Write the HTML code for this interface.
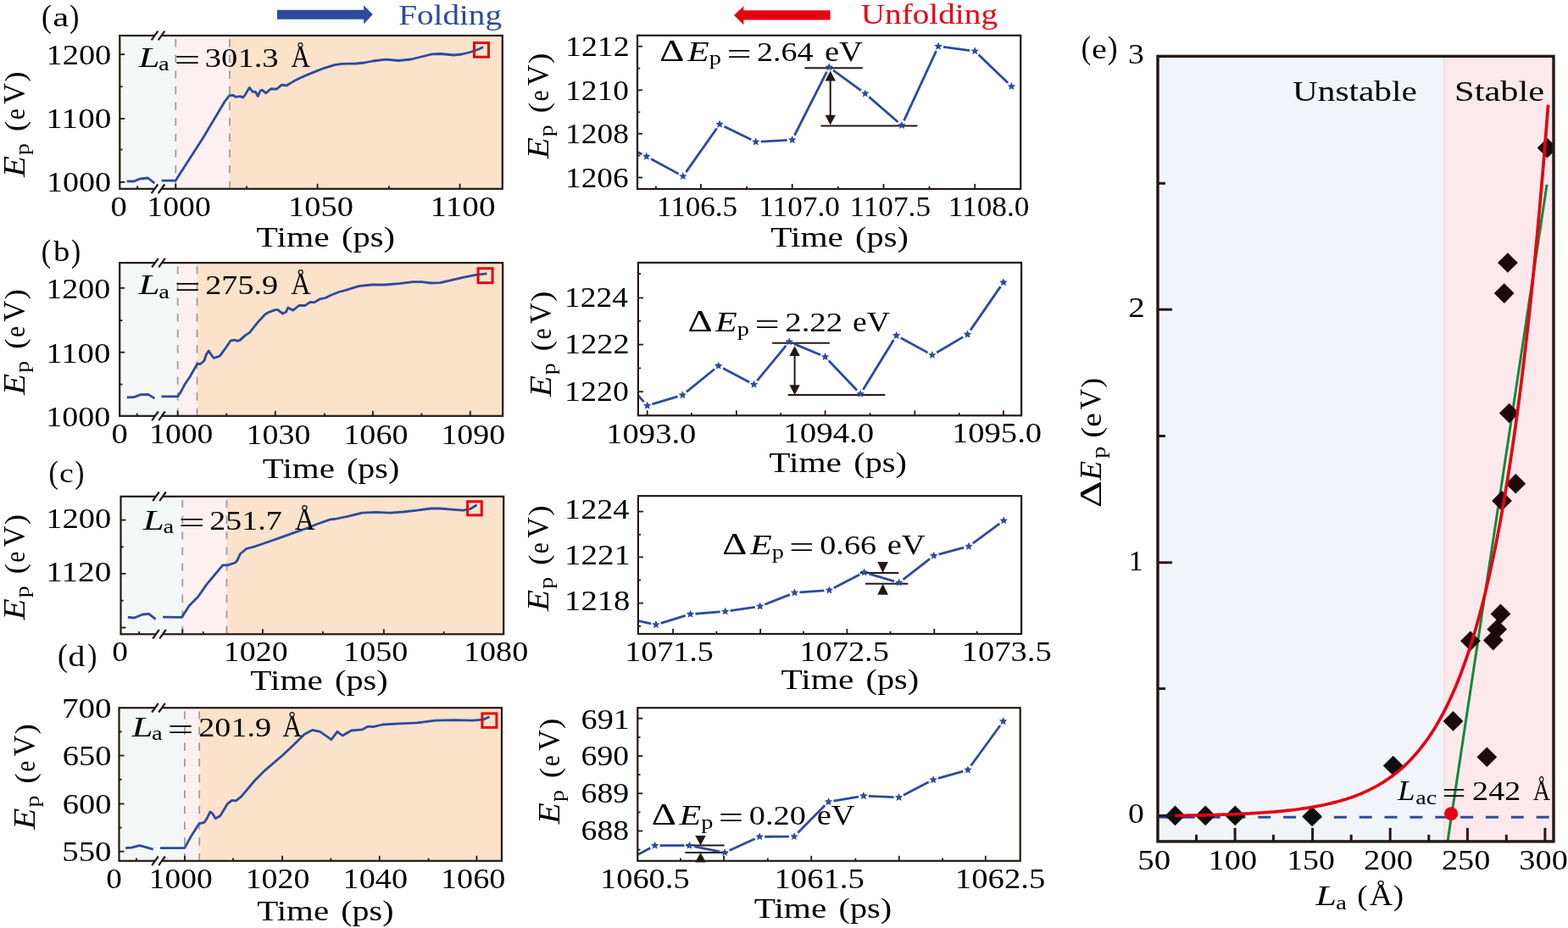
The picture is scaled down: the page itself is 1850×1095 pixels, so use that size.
<!DOCTYPE html>
<html><head><meta charset="utf-8"><style>
html,body{margin:0;padding:0;background:#fff;overflow:hidden}
svg{display:block}
text{font-family:"Liberation Serif","DejaVu Serif",serif}
</style></head><body>
<svg width="1850" height="1095" viewBox="0 0 1850 1095" fill="#231815">
<rect width="1850" height="1095" fill="#fff"/>
<polygon points="327,11.7 429.2,11.7 429.2,6.2 439.7,17 429.2,28.4 429.2,22.7 327,22.7" fill="#2c4a9e"/>
<text x="470.16" y="29.20" font-size="34.50" textLength="121.87" lengthAdjust="spacingAndGlyphs" fill="#2c4a9e">Folding</text>
<polygon points="979.6,12.3 877.4,12.3 877.4,7.2 866,18 877.4,29.3 877.4,23.6 979.6,23.6" fill="#e60012"/>
<text x="1015.68" y="28.30" font-size="33.44" textLength="161.36" lengthAdjust="spacingAndGlyphs" fill="#e60012">Unfolding</text>
<rect x="141.30" y="42.00" width="66.00" height="180.80" fill="#f3f8f6"/>
<rect x="207.30" y="42.00" width="63.70" height="180.80" fill="#fdf0f0"/>
<rect x="271.00" y="42.00" width="321.80" height="180.80" fill="#fbe2ca"/>
<line x1="207.30" y1="46.20" x2="207.30" y2="221.80" stroke="#9e9e9e" stroke-width="1.8" stroke-dasharray="9.3,9.3"/>
<line x1="271.00" y1="46.20" x2="271.00" y2="221.80" stroke="#9e9e9e" stroke-width="1.8" stroke-dasharray="9.3,9.3"/>
<clipPath id="c1"><rect x="141.3" y="42.0" width="451.5" height="180.8"/></clipPath>
<g clip-path="url(#c1)">
<polyline points="149.7,213.8 157.8,214.0 165.1,211.0 174.5,210.0 182.4,216.1" fill="none" stroke="#2c4a9e" stroke-width="2.8" stroke-linejoin="round" stroke-linecap="butt"/>
<polyline points="190.6,213.1 207.2,213.1 240.0,162.0 265.0,120.0 270.7,112.7 274.7,112.3 278.0,114.3 283.7,113.7 286.5,115.1 289.3,111.9 294.2,103.4 298.3,108.3 301.5,108.3 304.3,113.5 307.2,107.0 309.2,106.2 313.7,109.9 319.3,105.0 326.6,105.0 332.3,100.1 338.0,101.0 346.1,96.1 354.2,92.0 362.3,88.4 370.4,85.1 382.6,80.3 394.8,76.6 402.9,75.4 410.0,75.2 420.0,75.0 430.0,74.0 440.0,72.0 455.0,70.2 470.0,71.5 485.0,70.0 495.0,67.5 510.0,63.8 520.0,63.5 535.0,65.0 545.0,64.0 555.0,61.5 565.0,58.0 570.0,55.5" fill="none" stroke="#2c4a9e" stroke-width="2.8" stroke-linejoin="round" stroke-linecap="butt"/>
</g>
<rect x="559.5" y="50.5" width="17.0" height="16.7" fill="none" stroke="#e60012" stroke-width="3.0"/>
<rect x="141.30" y="42.00" width="451.50" height="180.80" fill="none" stroke="#231815" stroke-width="2.2"/>
<line x1="141.30" y1="64.20" x2="147.30" y2="64.20" stroke="#231815" stroke-width="1.8"/>
<line x1="141.30" y1="140.00" x2="147.30" y2="140.00" stroke="#231815" stroke-width="1.8"/>
<line x1="141.30" y1="214.90" x2="147.30" y2="214.90" stroke="#231815" stroke-width="1.8"/>
<line x1="141.30" y1="102.20" x2="144.50" y2="102.20" stroke="#231815" stroke-width="1.8"/>
<line x1="141.30" y1="176.50" x2="144.50" y2="176.50" stroke="#231815" stroke-width="1.8"/>
<line x1="207.30" y1="222.80" x2="207.30" y2="216.80" stroke="#231815" stroke-width="1.8"/>
<line x1="374.60" y1="222.80" x2="374.60" y2="216.80" stroke="#231815" stroke-width="1.8"/>
<line x1="542.60" y1="222.80" x2="542.60" y2="216.80" stroke="#231815" stroke-width="1.8"/>
<line x1="162.00" y1="222.80" x2="162.00" y2="219.60" stroke="#231815" stroke-width="1.8"/>
<line x1="291.00" y1="222.80" x2="291.00" y2="219.60" stroke="#231815" stroke-width="1.8"/>
<line x1="458.90" y1="222.80" x2="458.90" y2="219.60" stroke="#231815" stroke-width="1.8"/>
<line x1="182.50" y1="42.00" x2="190.50" y2="42.00" stroke="#ffffff" stroke-width="3.2"/>
<line x1="178.70" y1="47.30" x2="186.30" y2="36.70" stroke="#231815" stroke-width="2.2"/>
<line x1="186.70" y1="47.30" x2="194.30" y2="36.70" stroke="#231815" stroke-width="2.2"/>
<line x1="182.50" y1="222.80" x2="190.50" y2="222.80" stroke="#ffffff" stroke-width="3.2"/>
<line x1="178.70" y1="228.10" x2="186.30" y2="217.50" stroke="#231815" stroke-width="2.2"/>
<line x1="186.70" y1="228.10" x2="194.30" y2="217.50" stroke="#231815" stroke-width="2.2"/>
<text x="54.41" y="76.20" font-size="33.08" textLength="76.95" lengthAdjust="spacingAndGlyphs" fill="#000">1200</text>
<text x="54.35" y="151.20" font-size="33.08" textLength="77.04" lengthAdjust="spacingAndGlyphs" fill="#000">1100</text>
<text x="55.05" y="226.20" font-size="33.08" textLength="76.09" lengthAdjust="spacingAndGlyphs" fill="#000">1000</text>
<text x="130.53" y="255.40" font-size="33.08" textLength="19.34" lengthAdjust="spacingAndGlyphs" fill="#000">0</text>
<text x="173.38" y="255.40" font-size="33.08" textLength="75.35" lengthAdjust="spacingAndGlyphs" fill="#000">1000</text>
<text x="340.12" y="254.70" font-size="33.08" textLength="76.84" lengthAdjust="spacingAndGlyphs" fill="#000">1050</text>
<text x="507.55" y="254.70" font-size="33.08" textLength="77.04" lengthAdjust="spacingAndGlyphs" fill="#000">1100</text>
<text x="302.55" y="291.00" font-size="34.35" textLength="86.06" lengthAdjust="spacingAndGlyphs" fill="#000">Time</text>
<text x="402.90" y="291.00" font-size="34.35" textLength="62.99" lengthAdjust="spacingAndGlyphs" fill="#000">(ps)</text>
<g transform="translate(28.50,209.60) rotate(-90)">
<text x="0.49" y="0.00" font-size="35.73" textLength="25.06" lengthAdjust="spacingAndGlyphs" font-style="italic" fill="#000">E</text>
<text x="26.65" y="5.00" font-size="24.00" textLength="13.93" lengthAdjust="spacingAndGlyphs" fill="#000">p</text>
<text x="54.67" y="0.00" font-size="34.50" textLength="12.31" lengthAdjust="spacingAndGlyphs" fill="#000">(</text>
<text x="68.35" y="0.00" font-size="34.50" textLength="13.08" lengthAdjust="spacingAndGlyphs" fill="#000">e</text>
<text x="86.62" y="0.00" font-size="35.73" textLength="24.86" lengthAdjust="spacingAndGlyphs" fill="#000">V</text>
<text x="112.82" y="0.00" font-size="34.50" textLength="12.31" lengthAdjust="spacingAndGlyphs" fill="#000">)</text>
</g>
<text x="163.44" y="78.80" font-size="34.35" textLength="25.09" lengthAdjust="spacingAndGlyphs" font-style="italic" fill="#000">L</text>
<text x="187.10" y="83.40" font-size="24.00" textLength="12.70" lengthAdjust="spacingAndGlyphs" fill="#000">a</text>
<text x="205.79" y="82.90" font-size="36.80" textLength="30.56" lengthAdjust="spacingAndGlyphs" fill="#000" stroke="#000" stroke-width="0.1">=</text>
<text x="241.74" y="78.80" font-size="32.33" textLength="86.96" lengthAdjust="spacingAndGlyphs" fill="#000">301.3</text>
<text x="343.39" y="78.80" font-size="36.59" textLength="22.43" lengthAdjust="spacingAndGlyphs" fill="#000">Å</text>
<rect x="141.20" y="310.10" width="68.50" height="180.70" fill="#f3f8f6"/>
<rect x="209.70" y="310.10" width="22.80" height="180.70" fill="#fdf0f0"/>
<rect x="232.50" y="310.10" width="360.70" height="180.70" fill="#fbe2ca"/>
<line x1="209.70" y1="314.30" x2="209.70" y2="489.80" stroke="#9e9e9e" stroke-width="1.8" stroke-dasharray="9.3,9.3"/>
<line x1="232.50" y1="314.30" x2="232.50" y2="489.80" stroke="#9e9e9e" stroke-width="1.8" stroke-dasharray="9.3,9.3"/>
<clipPath id="c2"><rect x="141.2" y="310.1" width="452.0" height="180.7"/></clipPath>
<g clip-path="url(#c2)">
<polyline points="149.7,468.8 157.8,468.7 165.9,465.6 174.9,465.4 182.4,470.1" fill="none" stroke="#2c4a9e" stroke-width="2.8" stroke-linejoin="round" stroke-linecap="butt"/>
<polyline points="190.5,467.8 209.7,467.8 212.8,463.4 217.9,453.8 224.3,444.2 232.6,429.5 236.4,429.5 240.9,425.7 243.5,418.0 246.3,413.9 249.2,418.6 252.2,422.5 256.3,421.2 259.5,419.9 266.5,410.3 272.3,401.8 276.7,401.1 279.9,402.3 283.1,401.4 289.5,395.6 294.6,392.4 303.6,380.9 312.5,371.3 316.4,368.8 324.7,365.6 327.9,365.6 333.6,370.1 337.5,368.1 339.8,363.0 345.8,366.2 352.8,360.5 359.8,360.5 366.2,356.4 370.7,356.9 377.7,352.8 384.1,351.5 390.5,348.3 400.0,344.5 408.0,342.4 423.1,337.6 438.2,336.0 454.5,336.0 470.7,334.6 486.9,332.7 497.7,332.7 508.5,334.0 519.3,333.6 530.1,331.1 546.4,327.3 562.6,324.1 574.5,322.8" fill="none" stroke="#2c4a9e" stroke-width="2.8" stroke-linejoin="round" stroke-linecap="butt"/>
</g>
<rect x="564.1" y="316.7" width="17.0" height="17.0" fill="none" stroke="#e60012" stroke-width="3.0"/>
<rect x="141.20" y="310.10" width="452.00" height="180.70" fill="none" stroke="#231815" stroke-width="2.2"/>
<line x1="141.20" y1="339.80" x2="147.20" y2="339.80" stroke="#231815" stroke-width="1.8"/>
<line x1="141.20" y1="415.70" x2="147.20" y2="415.70" stroke="#231815" stroke-width="1.8"/>
<line x1="141.20" y1="378.10" x2="144.40" y2="378.10" stroke="#231815" stroke-width="1.8"/>
<line x1="141.20" y1="453.50" x2="144.40" y2="453.50" stroke="#231815" stroke-width="1.8"/>
<line x1="209.70" y1="490.80" x2="209.70" y2="484.80" stroke="#231815" stroke-width="1.8"/>
<line x1="324.80" y1="490.80" x2="324.80" y2="484.80" stroke="#231815" stroke-width="1.8"/>
<line x1="439.90" y1="490.80" x2="439.90" y2="484.80" stroke="#231815" stroke-width="1.8"/>
<line x1="554.80" y1="490.80" x2="554.80" y2="484.80" stroke="#231815" stroke-width="1.8"/>
<line x1="161.70" y1="490.80" x2="161.70" y2="487.60" stroke="#231815" stroke-width="1.8"/>
<line x1="267.30" y1="490.80" x2="267.30" y2="487.60" stroke="#231815" stroke-width="1.8"/>
<line x1="382.90" y1="490.80" x2="382.90" y2="487.60" stroke="#231815" stroke-width="1.8"/>
<line x1="497.40" y1="490.80" x2="497.40" y2="487.60" stroke="#231815" stroke-width="1.8"/>
<line x1="183.00" y1="310.10" x2="191.00" y2="310.10" stroke="#ffffff" stroke-width="3.2"/>
<line x1="179.20" y1="315.40" x2="186.80" y2="304.80" stroke="#231815" stroke-width="2.2"/>
<line x1="187.20" y1="315.40" x2="194.80" y2="304.80" stroke="#231815" stroke-width="2.2"/>
<line x1="183.00" y1="490.80" x2="191.00" y2="490.80" stroke="#ffffff" stroke-width="3.2"/>
<line x1="179.20" y1="496.10" x2="186.80" y2="485.50" stroke="#231815" stroke-width="2.2"/>
<line x1="187.20" y1="496.10" x2="194.80" y2="485.50" stroke="#231815" stroke-width="2.2"/>
<text x="54.26" y="351.80" font-size="33.08" textLength="75.99" lengthAdjust="spacingAndGlyphs" fill="#000">1200</text>
<text x="54.19" y="427.50" font-size="33.08" textLength="76.08" lengthAdjust="spacingAndGlyphs" fill="#000">1100</text>
<text x="54.26" y="503.00" font-size="33.08" textLength="75.99" lengthAdjust="spacingAndGlyphs" fill="#000">1000</text>
<text x="131.53" y="523.30" font-size="33.08" textLength="19.34" lengthAdjust="spacingAndGlyphs" fill="#000">0</text>
<text x="176.19" y="523.30" font-size="33.08" textLength="75.24" lengthAdjust="spacingAndGlyphs" fill="#000">1000</text>
<text x="290.57" y="523.50" font-size="33.08" textLength="75.77" lengthAdjust="spacingAndGlyphs" fill="#000">1030</text>
<text x="405.24" y="523.50" font-size="33.08" textLength="76.31" lengthAdjust="spacingAndGlyphs" fill="#000">1060</text>
<text x="520.48" y="523.50" font-size="33.08" textLength="75.56" lengthAdjust="spacingAndGlyphs" fill="#000">1090</text>
<text x="309.86" y="563.80" font-size="34.35" textLength="85.05" lengthAdjust="spacingAndGlyphs" fill="#000">Time</text>
<text x="409.03" y="563.80" font-size="34.35" textLength="62.24" lengthAdjust="spacingAndGlyphs" fill="#000">(ps)</text>
<g transform="translate(28.80,466.40) rotate(-90)">
<text x="0.49" y="0.00" font-size="35.73" textLength="25.06" lengthAdjust="spacingAndGlyphs" font-style="italic" fill="#000">E</text>
<text x="26.65" y="5.00" font-size="24.00" textLength="13.93" lengthAdjust="spacingAndGlyphs" fill="#000">p</text>
<text x="54.67" y="0.00" font-size="34.50" textLength="12.31" lengthAdjust="spacingAndGlyphs" fill="#000">(</text>
<text x="68.35" y="0.00" font-size="34.50" textLength="13.08" lengthAdjust="spacingAndGlyphs" fill="#000">e</text>
<text x="86.62" y="0.00" font-size="35.73" textLength="24.86" lengthAdjust="spacingAndGlyphs" fill="#000">V</text>
<text x="112.82" y="0.00" font-size="34.50" textLength="12.31" lengthAdjust="spacingAndGlyphs" fill="#000">)</text>
</g>
<text x="163.64" y="347.20" font-size="34.35" textLength="25.09" lengthAdjust="spacingAndGlyphs" font-style="italic" fill="#000">L</text>
<text x="187.30" y="351.80" font-size="24.00" textLength="12.70" lengthAdjust="spacingAndGlyphs" fill="#000">a</text>
<text x="205.99" y="351.30" font-size="36.80" textLength="30.56" lengthAdjust="spacingAndGlyphs" fill="#000" stroke="#000" stroke-width="0.1">=</text>
<text x="242.32" y="347.20" font-size="32.48" textLength="85.74" lengthAdjust="spacingAndGlyphs" fill="#000">275.9</text>
<text x="343.38" y="347.20" font-size="36.59" textLength="23.05" lengthAdjust="spacingAndGlyphs" fill="#000">Å</text>
<rect x="142.50" y="585.80" width="72.80" height="162.50" fill="#f3f8f6"/>
<rect x="215.30" y="585.80" width="52.20" height="162.50" fill="#fdf0f0"/>
<rect x="267.50" y="585.80" width="326.70" height="162.50" fill="#fbe2ca"/>
<line x1="215.30" y1="590.00" x2="215.30" y2="747.30" stroke="#9e9e9e" stroke-width="1.8" stroke-dasharray="9.3,9.3"/>
<line x1="267.50" y1="590.00" x2="267.50" y2="747.30" stroke="#9e9e9e" stroke-width="1.8" stroke-dasharray="9.3,9.3"/>
<clipPath id="c3"><rect x="142.5" y="585.8" width="451.7" height="162.5"/></clipPath>
<g clip-path="url(#c3)">
<polyline points="150.9,728.4 158.6,729.0 168.4,725.0 175.7,724.4 183.6,730.6" fill="none" stroke="#2c4a9e" stroke-width="2.8" stroke-linejoin="round" stroke-linecap="butt"/>
<polyline points="192.1,728.2 214.6,728.3 223.4,714.4 233.6,704.2 243.8,689.6 262.8,666.9 268.7,666.9 277.4,664.0 279.6,661.8 283.3,653.8 290.6,647.5 302.3,644.3 316.9,639.2 331.5,634.1 346.1,628.9 360.7,623.8 375.3,618.0 389.9,612.9 395.0,612.5 411.2,609.2 427.4,605.1 443.6,604.3 459.9,605.1 476.1,604.0 492.3,602.2 508.5,600.0 519.3,600.0 535.5,601.4 546.4,602.2 555.0,600.5 562.6,595.7" fill="none" stroke="#2c4a9e" stroke-width="2.8" stroke-linejoin="round" stroke-linecap="butt"/>
</g>
<rect x="551.6" y="591.8" width="16.7" height="16.1" fill="none" stroke="#e60012" stroke-width="3.0"/>
<rect x="142.50" y="585.80" width="451.70" height="162.50" fill="none" stroke="#231815" stroke-width="2.2"/>
<line x1="142.50" y1="613.60" x2="148.50" y2="613.60" stroke="#231815" stroke-width="1.8"/>
<line x1="142.50" y1="676.90" x2="148.50" y2="676.90" stroke="#231815" stroke-width="1.8"/>
<line x1="142.50" y1="740.50" x2="148.50" y2="740.50" stroke="#231815" stroke-width="1.8"/>
<line x1="142.50" y1="645.40" x2="145.70" y2="645.40" stroke="#231815" stroke-width="1.8"/>
<line x1="142.50" y1="708.70" x2="145.70" y2="708.70" stroke="#231815" stroke-width="1.8"/>
<line x1="215.30" y1="748.30" x2="215.30" y2="742.30" stroke="#231815" stroke-width="1.8"/>
<line x1="309.90" y1="748.30" x2="309.90" y2="742.30" stroke="#231815" stroke-width="1.8"/>
<line x1="452.90" y1="748.30" x2="452.90" y2="742.30" stroke="#231815" stroke-width="1.8"/>
<line x1="164.20" y1="748.30" x2="164.20" y2="745.10" stroke="#231815" stroke-width="1.8"/>
<line x1="239.70" y1="748.30" x2="239.70" y2="745.10" stroke="#231815" stroke-width="1.8"/>
<line x1="380.90" y1="748.30" x2="380.90" y2="745.10" stroke="#231815" stroke-width="1.8"/>
<line x1="523.70" y1="748.30" x2="523.70" y2="745.10" stroke="#231815" stroke-width="1.8"/>
<line x1="184.00" y1="585.80" x2="192.00" y2="585.80" stroke="#ffffff" stroke-width="3.2"/>
<line x1="180.20" y1="591.10" x2="187.80" y2="580.50" stroke="#231815" stroke-width="2.2"/>
<line x1="188.20" y1="591.10" x2="195.80" y2="580.50" stroke="#231815" stroke-width="2.2"/>
<line x1="184.00" y1="748.30" x2="192.00" y2="748.30" stroke="#ffffff" stroke-width="3.2"/>
<line x1="180.20" y1="753.60" x2="187.80" y2="743.00" stroke="#231815" stroke-width="2.2"/>
<line x1="188.20" y1="753.60" x2="195.80" y2="743.00" stroke="#231815" stroke-width="2.2"/>
<text x="54.31" y="622.90" font-size="33.08" textLength="76.95" lengthAdjust="spacingAndGlyphs" fill="#000">1200</text>
<text x="54.25" y="685.90" font-size="33.08" textLength="77.04" lengthAdjust="spacingAndGlyphs" fill="#000">1120</text>
<text x="132.27" y="779.70" font-size="33.08" textLength="18.75" lengthAdjust="spacingAndGlyphs" fill="#000">0</text>
<text x="263.87" y="779.50" font-size="33.08" textLength="75.77" lengthAdjust="spacingAndGlyphs" fill="#000">1020</text>
<text x="405.14" y="779.50" font-size="33.08" textLength="76.31" lengthAdjust="spacingAndGlyphs" fill="#000">1050</text>
<text x="546.94" y="779.50" font-size="33.08" textLength="76.31" lengthAdjust="spacingAndGlyphs" fill="#000">1080</text>
<text x="295.26" y="813.80" font-size="34.35" textLength="85.58" lengthAdjust="spacingAndGlyphs" fill="#000">Time</text>
<text x="395.04" y="813.80" font-size="34.35" textLength="62.63" lengthAdjust="spacingAndGlyphs" fill="#000">(ps)</text>
<g transform="translate(28.50,732.00) rotate(-90)">
<text x="0.49" y="0.00" font-size="35.73" textLength="25.06" lengthAdjust="spacingAndGlyphs" font-style="italic" fill="#000">E</text>
<text x="26.65" y="5.00" font-size="24.00" textLength="13.93" lengthAdjust="spacingAndGlyphs" fill="#000">p</text>
<text x="54.67" y="0.00" font-size="34.50" textLength="12.31" lengthAdjust="spacingAndGlyphs" fill="#000">(</text>
<text x="68.35" y="0.00" font-size="34.50" textLength="13.08" lengthAdjust="spacingAndGlyphs" fill="#000">e</text>
<text x="86.62" y="0.00" font-size="35.73" textLength="24.86" lengthAdjust="spacingAndGlyphs" fill="#000">V</text>
<text x="112.82" y="0.00" font-size="34.50" textLength="12.31" lengthAdjust="spacingAndGlyphs" fill="#000">)</text>
</g>
<text x="168.74" y="624.50" font-size="34.35" textLength="25.09" lengthAdjust="spacingAndGlyphs" font-style="italic" fill="#000">L</text>
<text x="192.40" y="629.10" font-size="24.00" textLength="12.70" lengthAdjust="spacingAndGlyphs" fill="#000">a</text>
<text x="211.09" y="628.60" font-size="36.80" textLength="30.56" lengthAdjust="spacingAndGlyphs" fill="#000" stroke="#000" stroke-width="0.1">=</text>
<text x="247.33" y="624.50" font-size="32.48" textLength="85.27" lengthAdjust="spacingAndGlyphs" fill="#000">251.7</text>
<text x="347.77" y="624.50" font-size="36.59" textLength="23.97" lengthAdjust="spacingAndGlyphs" fill="#000">Å</text>
<rect x="140.50" y="835.20" width="77.40" height="180.60" fill="#f3f8f6"/>
<rect x="217.90" y="835.20" width="17.30" height="180.60" fill="#fdf0f0"/>
<rect x="235.20" y="835.20" width="356.80" height="180.60" fill="#fbe2ca"/>
<line x1="217.90" y1="839.40" x2="217.90" y2="1014.80" stroke="#9e9e9e" stroke-width="1.8" stroke-dasharray="9.3,9.3"/>
<line x1="235.20" y1="839.40" x2="235.20" y2="1014.80" stroke="#9e9e9e" stroke-width="1.8" stroke-dasharray="9.3,9.3"/>
<clipPath id="c4"><rect x="140.5" y="835.2" width="451.5" height="180.6"/></clipPath>
<g clip-path="url(#c4)">
<polyline points="148.1,1000.6 155.4,1000.2 164.7,997.6 180.7,1002.2" fill="none" stroke="#2c4a9e" stroke-width="2.8" stroke-linejoin="round" stroke-linecap="butt"/>
<polyline points="189.0,1000.6 217.8,1000.7 225.5,986.7 234.8,972.0 241.1,970.4 244.9,964.2 248.0,958.0 250.4,959.6 254.3,965.8 259.7,962.7 263.6,956.5 268.2,948.7 273.7,944.3 278.3,944.8 284.5,940.2 300.1,921.5 312.5,909.1 334.2,890.5 346.6,878.8 359.1,866.4 368.4,861.4 377.7,863.3 390.9,872.6 397.9,863.3 404.2,868.0 414.5,862.0 427.4,860.9 433.9,857.2 440.4,857.7 451.2,855.0 470.7,853.9 492.3,852.8 513.9,850.1 535.5,849.6 557.2,850.1 570.1,849.1 577.7,845.8" fill="none" stroke="#2c4a9e" stroke-width="2.8" stroke-linejoin="round" stroke-linecap="butt"/>
</g>
<rect x="568.9" y="841.9" width="17.0" height="16.5" fill="none" stroke="#e60012" stroke-width="3.0"/>
<rect x="140.50" y="835.20" width="451.50" height="180.60" fill="none" stroke="#231815" stroke-width="2.2"/>
<line x1="140.50" y1="891.50" x2="146.50" y2="891.50" stroke="#231815" stroke-width="1.8"/>
<line x1="140.50" y1="948.50" x2="146.50" y2="948.50" stroke="#231815" stroke-width="1.8"/>
<line x1="140.50" y1="1004.70" x2="146.50" y2="1004.70" stroke="#231815" stroke-width="1.8"/>
<line x1="140.50" y1="863.40" x2="143.70" y2="863.40" stroke="#231815" stroke-width="1.8"/>
<line x1="140.50" y1="919.80" x2="143.70" y2="919.80" stroke="#231815" stroke-width="1.8"/>
<line x1="140.50" y1="976.60" x2="143.70" y2="976.60" stroke="#231815" stroke-width="1.8"/>
<line x1="218.10" y1="1015.80" x2="218.10" y2="1009.80" stroke="#231815" stroke-width="1.8"/>
<line x1="333.10" y1="1015.80" x2="333.10" y2="1009.80" stroke="#231815" stroke-width="1.8"/>
<line x1="447.80" y1="1015.80" x2="447.80" y2="1009.80" stroke="#231815" stroke-width="1.8"/>
<line x1="562.40" y1="1015.80" x2="562.40" y2="1009.80" stroke="#231815" stroke-width="1.8"/>
<line x1="160.90" y1="1015.80" x2="160.90" y2="1012.60" stroke="#231815" stroke-width="1.8"/>
<line x1="275.10" y1="1015.80" x2="275.10" y2="1012.60" stroke="#231815" stroke-width="1.8"/>
<line x1="390.30" y1="1015.80" x2="390.30" y2="1012.60" stroke="#231815" stroke-width="1.8"/>
<line x1="505.60" y1="1015.80" x2="505.60" y2="1012.60" stroke="#231815" stroke-width="1.8"/>
<line x1="183.00" y1="835.20" x2="191.00" y2="835.20" stroke="#ffffff" stroke-width="3.2"/>
<line x1="179.20" y1="840.50" x2="186.80" y2="829.90" stroke="#231815" stroke-width="2.2"/>
<line x1="187.20" y1="840.50" x2="194.80" y2="829.90" stroke="#231815" stroke-width="2.2"/>
<line x1="183.00" y1="1015.80" x2="191.00" y2="1015.80" stroke="#ffffff" stroke-width="3.2"/>
<line x1="179.20" y1="1021.10" x2="186.80" y2="1010.50" stroke="#231815" stroke-width="2.2"/>
<line x1="187.20" y1="1021.10" x2="194.80" y2="1010.50" stroke="#231815" stroke-width="2.2"/>
<text x="72.92" y="847.30" font-size="33.08" textLength="58.67" lengthAdjust="spacingAndGlyphs" fill="#000">700</text>
<text x="73.85" y="903.20" font-size="33.08" textLength="57.72" lengthAdjust="spacingAndGlyphs" fill="#000">650</text>
<text x="73.85" y="959.60" font-size="33.08" textLength="57.72" lengthAdjust="spacingAndGlyphs" fill="#000">600</text>
<text x="73.24" y="1016.30" font-size="33.08" textLength="58.33" lengthAdjust="spacingAndGlyphs" fill="#000">550</text>
<text x="125.38" y="1048.30" font-size="33.08" textLength="18.63" lengthAdjust="spacingAndGlyphs" fill="#000">0</text>
<text x="175.70" y="1048.30" font-size="33.08" textLength="75.03" lengthAdjust="spacingAndGlyphs" fill="#000">1000</text>
<text x="289.67" y="1048.30" font-size="33.08" textLength="75.77" lengthAdjust="spacingAndGlyphs" fill="#000">1020</text>
<text x="404.64" y="1048.30" font-size="33.08" textLength="76.41" lengthAdjust="spacingAndGlyphs" fill="#000">1040</text>
<text x="519.94" y="1048.30" font-size="33.08" textLength="76.41" lengthAdjust="spacingAndGlyphs" fill="#000">1060</text>
<text x="303.16" y="1085.60" font-size="34.35" textLength="84.99" lengthAdjust="spacingAndGlyphs" fill="#000">Time</text>
<text x="402.26" y="1085.60" font-size="34.35" textLength="62.20" lengthAdjust="spacingAndGlyphs" fill="#000">(ps)</text>
<g transform="translate(41.20,979.20) rotate(-90)">
<text x="0.49" y="0.00" font-size="35.73" textLength="25.06" lengthAdjust="spacingAndGlyphs" font-style="italic" fill="#000">E</text>
<text x="26.65" y="5.00" font-size="24.00" textLength="13.93" lengthAdjust="spacingAndGlyphs" fill="#000">p</text>
<text x="54.67" y="0.00" font-size="34.50" textLength="12.31" lengthAdjust="spacingAndGlyphs" fill="#000">(</text>
<text x="68.35" y="0.00" font-size="34.50" textLength="13.08" lengthAdjust="spacingAndGlyphs" fill="#000">e</text>
<text x="86.62" y="0.00" font-size="35.73" textLength="24.86" lengthAdjust="spacingAndGlyphs" fill="#000">V</text>
<text x="112.82" y="0.00" font-size="34.50" textLength="12.31" lengthAdjust="spacingAndGlyphs" fill="#000">)</text>
</g>
<text x="155.44" y="868.50" font-size="34.35" textLength="25.09" lengthAdjust="spacingAndGlyphs" font-style="italic" fill="#000">L</text>
<text x="179.10" y="873.10" font-size="24.00" textLength="12.70" lengthAdjust="spacingAndGlyphs" fill="#000">a</text>
<text x="197.79" y="872.60" font-size="36.80" textLength="30.56" lengthAdjust="spacingAndGlyphs" fill="#000" stroke="#000" stroke-width="0.1">=</text>
<text x="234.32" y="868.50" font-size="32.33" textLength="85.74" lengthAdjust="spacingAndGlyphs" fill="#000">201.9</text>
<text x="333.49" y="868.50" font-size="36.59" textLength="22.74" lengthAdjust="spacingAndGlyphs" fill="#000">Å</text>
<line x1="949.30" y1="80.30" x2="1017.90" y2="80.30" stroke="#231815" stroke-width="2"/>
<line x1="968.50" y1="148.60" x2="1082.40" y2="148.60" stroke="#231815" stroke-width="2"/>
<line x1="979.70" y1="91.60" x2="979.70" y2="139.50" stroke="#231815" stroke-width="2.0"/>
<polygon points="979.7,83.6 973.5,95.4 985.9,95.4" fill="#231815"/>
<polygon points="979.7,147.5 973.5,135.7 985.9,135.7" fill="#231815"/>
<clipPath id="c5"><rect x="752.0" y="41.8" width="452.2" height="181.2"/></clipPath>
<g clip-path="url(#c5)">
<path d="M725.10,166.32L757.40,181.98M768.07,187.46L800.63,205.14M809.35,203.09L845.65,151.51M854.49,149.23L886.31,164.77M897.69,167.08L928.71,165.42M937.41,159.75L975.49,84.65M983.05,82.84L1015.95,106.86M1025.33,114.33L1059.47,143.97M1066.52,142.45L1104.58,60.15M1113.05,55.47L1144.25,59.53M1154.52,64.47L1189.08,97.83" fill="none" stroke="#2c4a9e" stroke-width="2.8" stroke-linecap="butt"/>
<polygon points="762.80,179.60 764.15,182.74 767.56,183.05 764.99,185.31 765.74,188.65 762.80,186.90 759.86,188.65 760.61,185.31 758.04,183.05 761.45,182.74" fill="#2c4a9e"/>
<polygon points="805.90,203.00 807.25,206.14 810.66,206.45 808.09,208.71 808.84,212.05 805.90,210.30 802.96,212.05 803.71,208.71 801.14,206.45 804.55,206.14" fill="#2c4a9e"/>
<polygon points="849.10,141.60 850.45,144.74 853.86,145.05 851.29,147.31 852.04,150.65 849.10,148.90 846.16,150.65 846.91,147.31 844.34,145.05 847.75,144.74" fill="#2c4a9e"/>
<polygon points="891.70,162.40 893.05,165.54 896.46,165.85 893.89,168.11 894.64,171.45 891.70,169.70 888.76,171.45 889.51,168.11 886.94,165.85 890.35,165.54" fill="#2c4a9e"/>
<polygon points="934.70,160.10 936.05,163.24 939.46,163.55 936.89,165.81 937.64,169.15 934.70,167.40 931.76,169.15 932.51,165.81 929.94,163.55 933.35,163.24" fill="#2c4a9e"/>
<polygon points="978.20,74.30 979.55,77.44 982.96,77.75 980.39,80.01 981.14,83.35 978.20,81.60 975.26,83.35 976.01,80.01 973.44,77.75 976.85,77.44" fill="#2c4a9e"/>
<polygon points="1020.80,105.40 1022.15,108.54 1025.56,108.85 1022.99,111.11 1023.74,114.45 1020.80,112.70 1017.86,114.45 1018.61,111.11 1016.04,108.85 1019.45,108.54" fill="#2c4a9e"/>
<polygon points="1064.00,142.90 1065.35,146.04 1068.76,146.35 1066.19,148.61 1066.94,151.95 1064.00,150.20 1061.06,151.95 1061.81,148.61 1059.24,146.35 1062.65,146.04" fill="#2c4a9e"/>
<polygon points="1107.10,49.70 1108.45,52.84 1111.86,53.15 1109.29,55.41 1110.04,58.75 1107.10,57.00 1104.16,58.75 1104.91,55.41 1102.34,53.15 1105.75,52.84" fill="#2c4a9e"/>
<polygon points="1150.20,55.30 1151.55,58.44 1154.96,58.75 1152.39,61.01 1153.14,64.35 1150.20,62.60 1147.26,64.35 1148.01,61.01 1145.44,58.75 1148.85,58.44" fill="#2c4a9e"/>
<polygon points="1193.40,97.00 1194.75,100.14 1198.16,100.45 1195.59,102.71 1196.34,106.05 1193.40,104.30 1190.46,106.05 1191.21,102.71 1188.64,100.45 1192.05,100.14" fill="#2c4a9e"/>
</g>
<rect x="752.00" y="41.80" width="452.20" height="181.20" fill="none" stroke="#231815" stroke-width="2.2"/>
<line x1="752.00" y1="54.70" x2="758.00" y2="54.70" stroke="#231815" stroke-width="1.8"/>
<line x1="752.00" y1="106.40" x2="758.00" y2="106.40" stroke="#231815" stroke-width="1.8"/>
<line x1="752.00" y1="157.70" x2="758.00" y2="157.70" stroke="#231815" stroke-width="1.8"/>
<line x1="752.00" y1="209.50" x2="758.00" y2="209.50" stroke="#231815" stroke-width="1.8"/>
<line x1="752.00" y1="80.60" x2="755.20" y2="80.60" stroke="#231815" stroke-width="1.8"/>
<line x1="752.00" y1="132.30" x2="755.20" y2="132.30" stroke="#231815" stroke-width="1.8"/>
<line x1="752.00" y1="183.60" x2="755.20" y2="183.60" stroke="#231815" stroke-width="1.8"/>
<line x1="826.90" y1="223.00" x2="826.90" y2="217.00" stroke="#231815" stroke-width="1.8"/>
<line x1="934.70" y1="223.00" x2="934.70" y2="217.00" stroke="#231815" stroke-width="1.8"/>
<line x1="1042.50" y1="223.00" x2="1042.50" y2="217.00" stroke="#231815" stroke-width="1.8"/>
<line x1="1150.20" y1="223.00" x2="1150.20" y2="217.00" stroke="#231815" stroke-width="1.8"/>
<line x1="773.90" y1="223.00" x2="773.90" y2="219.80" stroke="#231815" stroke-width="1.8"/>
<line x1="881.10" y1="223.00" x2="881.10" y2="219.80" stroke="#231815" stroke-width="1.8"/>
<line x1="988.80" y1="223.00" x2="988.80" y2="219.80" stroke="#231815" stroke-width="1.8"/>
<line x1="1096.50" y1="223.00" x2="1096.50" y2="219.80" stroke="#231815" stroke-width="1.8"/>
<text x="666.97" y="66.20" font-size="33.23" textLength="75.71" lengthAdjust="spacingAndGlyphs" fill="#000">1212</text>
<text x="667.00" y="117.80" font-size="33.08" textLength="75.03" lengthAdjust="spacingAndGlyphs" fill="#000">1210</text>
<text x="667.00" y="169.10" font-size="33.08" textLength="75.03" lengthAdjust="spacingAndGlyphs" fill="#000">1208</text>
<text x="667.01" y="220.90" font-size="33.08" textLength="74.71" lengthAdjust="spacingAndGlyphs" fill="#000">1206</text>
<text x="774.91" y="254.90" font-size="33.08" textLength="95.26" lengthAdjust="spacingAndGlyphs" fill="#000">1106.5</text>
<text x="895.30" y="254.90" font-size="33.08" textLength="95.64" lengthAdjust="spacingAndGlyphs" fill="#000">1107.0</text>
<text x="1002.40" y="254.90" font-size="33.08" textLength="95.68" lengthAdjust="spacingAndGlyphs" fill="#000">1107.5</text>
<text x="1118.80" y="254.90" font-size="33.08" textLength="95.64" lengthAdjust="spacingAndGlyphs" fill="#000">1108.0</text>
<text x="909.16" y="291.10" font-size="34.35" textLength="85.74" lengthAdjust="spacingAndGlyphs" fill="#000">Time</text>
<text x="1009.13" y="291.10" font-size="34.35" textLength="62.75" lengthAdjust="spacingAndGlyphs" fill="#000">(ps)</text>
<g transform="translate(647.00,187.80) rotate(-90)">
<text x="0.49" y="0.00" font-size="35.73" textLength="25.06" lengthAdjust="spacingAndGlyphs" font-style="italic" fill="#000">E</text>
<text x="26.65" y="5.00" font-size="24.00" textLength="13.93" lengthAdjust="spacingAndGlyphs" fill="#000">p</text>
<text x="54.67" y="0.00" font-size="34.50" textLength="12.31" lengthAdjust="spacingAndGlyphs" fill="#000">(</text>
<text x="68.35" y="0.00" font-size="34.50" textLength="13.08" lengthAdjust="spacingAndGlyphs" fill="#000">e</text>
<text x="86.62" y="0.00" font-size="35.73" textLength="24.86" lengthAdjust="spacingAndGlyphs" fill="#000">V</text>
<text x="112.82" y="0.00" font-size="34.50" textLength="12.31" lengthAdjust="spacingAndGlyphs" fill="#000">)</text>
</g>
<text x="778.38" y="71.60" font-size="36.36" textLength="29.15" lengthAdjust="spacingAndGlyphs" fill="#000">Δ</text>
<text x="811.01" y="71.60" font-size="34.35" textLength="25.76" lengthAdjust="spacingAndGlyphs" font-style="italic" fill="#000">E</text>
<text x="836.75" y="76.40" font-size="24.00" textLength="14.16" lengthAdjust="spacingAndGlyphs" fill="#000">p</text>
<text x="857.41" y="75.70" font-size="36.80" textLength="29.23" lengthAdjust="spacingAndGlyphs" fill="#000" stroke="#000" stroke-width="0.1">=</text>
<text x="893.13" y="71.60" font-size="32.02" textLength="66.48" lengthAdjust="spacingAndGlyphs" fill="#000">2.64</text>
<text x="973.00" y="71.60" font-size="34.35" textLength="44.82" lengthAdjust="spacingAndGlyphs" fill="#000">eV</text>
<line x1="911.10" y1="404.70" x2="978.90" y2="404.70" stroke="#231815" stroke-width="2"/>
<line x1="929.70" y1="466.10" x2="1044.30" y2="466.10" stroke="#231815" stroke-width="2"/>
<line x1="937.60" y1="416.20" x2="937.60" y2="458.00" stroke="#231815" stroke-width="2.0"/>
<polygon points="937.6,408.2 931.4,420.0 943.8,420.0" fill="#231815"/>
<polygon points="937.6,466.0 931.4,454.2 943.8,454.2" fill="#231815"/>
<clipPath id="c6"><rect x="752.9" y="309.9" width="452.2" height="180.4"/></clipPath>
<g clip-path="url(#c6)">
<path d="M725.70,436.17L759.70,474.13M769.45,476.89L799.55,467.91M809.95,462.41L843.05,435.49M853.01,434.49L884.19,450.91M893.32,449.08L927.38,407.92M936.73,405.62L968.07,418.78M977.74,425.45L1011.06,460.45M1018.34,459.69L1054.46,401.01M1062.87,398.78L1094.63,416.12M1105.08,415.96L1136.32,397.64M1144.91,389.66L1180.49,338.14" fill="none" stroke="#2c4a9e" stroke-width="2.8" stroke-linecap="butt"/>
<polygon points="763.70,473.60 765.05,476.74 768.46,477.05 765.89,479.31 766.64,482.65 763.70,480.90 760.76,482.65 761.51,479.31 758.94,477.05 762.35,476.74" fill="#2c4a9e"/>
<polygon points="805.30,461.20 806.65,464.34 810.06,464.65 807.49,466.91 808.24,470.25 805.30,468.50 802.36,470.25 803.11,466.91 800.54,464.65 803.95,464.34" fill="#2c4a9e"/>
<polygon points="847.70,426.70 849.05,429.84 852.46,430.15 849.89,432.41 850.64,435.75 847.70,434.00 844.76,435.75 845.51,432.41 842.94,430.15 846.35,429.84" fill="#2c4a9e"/>
<polygon points="889.50,448.70 890.85,451.84 894.26,452.15 891.69,454.41 892.44,457.75 889.50,456.00 886.56,457.75 887.31,454.41 884.74,452.15 888.15,451.84" fill="#2c4a9e"/>
<polygon points="931.20,398.30 932.55,401.44 935.96,401.75 933.39,404.01 934.14,407.35 931.20,405.60 928.26,407.35 929.01,404.01 926.44,401.75 929.85,401.44" fill="#2c4a9e"/>
<polygon points="973.60,416.10 974.95,419.24 978.36,419.55 975.79,421.81 976.54,425.15 973.60,423.40 970.66,425.15 971.41,421.81 968.84,419.55 972.25,419.24" fill="#2c4a9e"/>
<polygon points="1015.20,459.80 1016.55,462.94 1019.96,463.25 1017.39,465.51 1018.14,468.85 1015.20,467.10 1012.26,468.85 1013.01,465.51 1010.44,463.25 1013.85,462.94" fill="#2c4a9e"/>
<polygon points="1057.60,390.90 1058.95,394.04 1062.36,394.35 1059.79,396.61 1060.54,399.95 1057.60,398.20 1054.66,399.95 1055.41,396.61 1052.84,394.35 1056.25,394.04" fill="#2c4a9e"/>
<polygon points="1099.90,414.00 1101.25,417.14 1104.66,417.45 1102.09,419.71 1102.84,423.05 1099.90,421.30 1096.96,423.05 1097.71,419.71 1095.14,417.45 1098.55,417.14" fill="#2c4a9e"/>
<polygon points="1141.50,389.60 1142.85,392.74 1146.26,393.05 1143.69,395.31 1144.44,398.65 1141.50,396.90 1138.56,398.65 1139.31,395.31 1136.74,393.05 1140.15,392.74" fill="#2c4a9e"/>
<polygon points="1183.90,328.20 1185.25,331.34 1188.66,331.65 1186.09,333.91 1186.84,337.25 1183.90,335.50 1180.96,337.25 1181.71,333.91 1179.14,331.65 1182.55,331.34" fill="#2c4a9e"/>
</g>
<rect x="752.90" y="309.90" width="452.20" height="180.40" fill="none" stroke="#231815" stroke-width="2.2"/>
<line x1="752.90" y1="351.50" x2="758.90" y2="351.50" stroke="#231815" stroke-width="1.8"/>
<line x1="752.90" y1="406.60" x2="758.90" y2="406.60" stroke="#231815" stroke-width="1.8"/>
<line x1="752.90" y1="462.20" x2="758.90" y2="462.20" stroke="#231815" stroke-width="1.8"/>
<line x1="752.90" y1="323.10" x2="756.10" y2="323.10" stroke="#231815" stroke-width="1.8"/>
<line x1="752.90" y1="378.70" x2="756.10" y2="378.70" stroke="#231815" stroke-width="1.8"/>
<line x1="752.90" y1="434.40" x2="756.10" y2="434.40" stroke="#231815" stroke-width="1.8"/>
<line x1="763.70" y1="490.30" x2="763.70" y2="484.30" stroke="#231815" stroke-width="1.8"/>
<line x1="868.90" y1="490.30" x2="868.90" y2="484.30" stroke="#231815" stroke-width="1.8"/>
<line x1="973.60" y1="490.30" x2="973.60" y2="484.30" stroke="#231815" stroke-width="1.8"/>
<line x1="1079.30" y1="490.30" x2="1079.30" y2="484.30" stroke="#231815" stroke-width="1.8"/>
<line x1="1183.90" y1="490.30" x2="1183.90" y2="484.30" stroke="#231815" stroke-width="1.8"/>
<line x1="815.90" y1="490.30" x2="815.90" y2="487.10" stroke="#231815" stroke-width="1.8"/>
<line x1="921.20" y1="490.30" x2="921.20" y2="487.10" stroke="#231815" stroke-width="1.8"/>
<line x1="1026.60" y1="490.30" x2="1026.60" y2="487.10" stroke="#231815" stroke-width="1.8"/>
<line x1="1131.70" y1="490.30" x2="1131.70" y2="487.10" stroke="#231815" stroke-width="1.8"/>
<text x="666.10" y="362.00" font-size="33.23" textLength="74.89" lengthAdjust="spacingAndGlyphs" fill="#000">1224</text>
<text x="666.04" y="417.40" font-size="33.23" textLength="76.47" lengthAdjust="spacingAndGlyphs" fill="#000">1222</text>
<text x="666.07" y="472.80" font-size="33.08" textLength="75.77" lengthAdjust="spacingAndGlyphs" fill="#000">1220</text>
<text x="715.31" y="522.60" font-size="33.08" textLength="106.06" lengthAdjust="spacingAndGlyphs" fill="#000">1093.0</text>
<text x="924.38" y="521.70" font-size="33.08" textLength="106.90" lengthAdjust="spacingAndGlyphs" fill="#000">1094.0</text>
<text x="1123.01" y="521.70" font-size="33.08" textLength="106.06" lengthAdjust="spacingAndGlyphs" fill="#000">1095.0</text>
<text x="907.16" y="557.20" font-size="34.35" textLength="85.80" lengthAdjust="spacingAndGlyphs" fill="#000">Time</text>
<text x="1007.19" y="557.20" font-size="34.35" textLength="62.79" lengthAdjust="spacingAndGlyphs" fill="#000">(ps)</text>
<g transform="translate(650.30,468.80) rotate(-90)">
<text x="0.49" y="0.00" font-size="35.73" textLength="25.06" lengthAdjust="spacingAndGlyphs" font-style="italic" fill="#000">E</text>
<text x="26.65" y="5.00" font-size="24.00" textLength="13.93" lengthAdjust="spacingAndGlyphs" fill="#000">p</text>
<text x="54.67" y="0.00" font-size="34.50" textLength="12.31" lengthAdjust="spacingAndGlyphs" fill="#000">(</text>
<text x="68.35" y="0.00" font-size="34.50" textLength="13.08" lengthAdjust="spacingAndGlyphs" fill="#000">e</text>
<text x="86.62" y="0.00" font-size="35.73" textLength="24.86" lengthAdjust="spacingAndGlyphs" fill="#000">V</text>
<text x="112.82" y="0.00" font-size="34.50" textLength="12.31" lengthAdjust="spacingAndGlyphs" fill="#000">)</text>
</g>
<text x="811.48" y="390.90" font-size="36.36" textLength="29.15" lengthAdjust="spacingAndGlyphs" fill="#000">Δ</text>
<text x="844.11" y="390.90" font-size="34.35" textLength="25.76" lengthAdjust="spacingAndGlyphs" font-style="italic" fill="#000">E</text>
<text x="869.85" y="395.70" font-size="24.00" textLength="14.16" lengthAdjust="spacingAndGlyphs" fill="#000">p</text>
<text x="890.51" y="395.00" font-size="36.80" textLength="29.23" lengthAdjust="spacingAndGlyphs" fill="#000" stroke="#000" stroke-width="0.1">=</text>
<text x="926.19" y="390.90" font-size="32.02" textLength="68.05" lengthAdjust="spacingAndGlyphs" fill="#000">2.22</text>
<text x="1006.13" y="390.90" font-size="34.35" textLength="43.88" lengthAdjust="spacingAndGlyphs" fill="#000">eV</text>
<line x1="1014.70" y1="675.90" x2="1060.30" y2="675.90" stroke="#231815" stroke-width="2"/>
<line x1="1020.90" y1="688.80" x2="1071.40" y2="688.80" stroke="#231815" stroke-width="2"/>
<polygon points="1041.6,675.9 1035.3,662.9 1047.9,662.9" fill="#231815"/>
<polygon points="1041.6,688.8 1035.3,701.8 1047.9,701.8" fill="#231815"/>
<clipPath id="c7"><rect x="752.9" y="585.2" width="452.2" height="162.8"/></clipPath>
<g clip-path="url(#c7)">
<path d="M738.67,729.56L768.03,735.84M779.64,735.35L808.76,726.45M820.48,724.24L849.72,721.96M861.63,720.62L890.77,716.28M902.29,713.21L931.91,701.59M943.48,698.96L972.42,696.84M983.75,693.68L1014.25,678.12M1025.36,677.09L1055.04,685.81M1065.54,683.82L1097.06,659.38M1107.59,654.14L1137.21,646.16M1147.83,641.05L1179.37,617.85" fill="none" stroke="#2c4a9e" stroke-width="2.8" stroke-linecap="butt"/>
<polygon points="773.90,732.10 775.25,735.24 778.66,735.55 776.09,737.81 776.84,741.15 773.90,739.40 770.96,741.15 771.71,737.81 769.14,735.55 772.55,735.24" fill="#2c4a9e"/>
<polygon points="814.50,719.70 815.85,722.84 819.26,723.15 816.69,725.41 817.44,728.75 814.50,727.00 811.56,728.75 812.31,725.41 809.74,723.15 813.15,722.84" fill="#2c4a9e"/>
<polygon points="855.70,716.50 857.05,719.64 860.46,719.95 857.89,722.21 858.64,725.55 855.70,723.80 852.76,725.55 853.51,722.21 850.94,719.95 854.35,719.64" fill="#2c4a9e"/>
<polygon points="896.70,710.40 898.05,713.54 901.46,713.85 898.89,716.11 899.64,719.45 896.70,717.70 893.76,719.45 894.51,716.11 891.94,713.85 895.35,713.54" fill="#2c4a9e"/>
<polygon points="937.50,694.40 938.85,697.54 942.26,697.85 939.69,700.11 940.44,703.45 937.50,701.70 934.56,703.45 935.31,700.11 932.74,697.85 936.15,697.54" fill="#2c4a9e"/>
<polygon points="978.40,691.40 979.75,694.54 983.16,694.85 980.59,697.11 981.34,700.45 978.40,698.70 975.46,700.45 976.21,697.11 973.64,694.85 977.05,694.54" fill="#2c4a9e"/>
<polygon points="1019.60,670.40 1020.95,673.54 1024.36,673.85 1021.79,676.11 1022.54,679.45 1019.60,677.70 1016.66,679.45 1017.41,676.11 1014.84,673.85 1018.25,673.54" fill="#2c4a9e"/>
<polygon points="1060.80,682.50 1062.15,685.64 1065.56,685.95 1062.99,688.21 1063.74,691.55 1060.80,689.80 1057.86,691.55 1058.61,688.21 1056.04,685.95 1059.45,685.64" fill="#2c4a9e"/>
<polygon points="1101.80,650.70 1103.15,653.84 1106.56,654.15 1103.99,656.41 1104.74,659.75 1101.80,658.00 1098.86,659.75 1099.61,656.41 1097.04,654.15 1100.45,653.84" fill="#2c4a9e"/>
<polygon points="1143.00,639.60 1144.35,642.74 1147.76,643.05 1145.19,645.31 1145.94,648.65 1143.00,646.90 1140.06,648.65 1140.81,645.31 1138.24,643.05 1141.65,642.74" fill="#2c4a9e"/>
<polygon points="1184.20,609.30 1185.55,612.44 1188.96,612.75 1186.39,615.01 1187.14,618.35 1184.20,616.60 1181.26,618.35 1182.01,615.01 1179.44,612.75 1182.85,612.44" fill="#2c4a9e"/>
</g>
<rect x="752.90" y="585.20" width="452.20" height="162.80" fill="none" stroke="#231815" stroke-width="2.2"/>
<line x1="752.90" y1="603.60" x2="758.90" y2="603.60" stroke="#231815" stroke-width="1.8"/>
<line x1="752.90" y1="657.40" x2="758.90" y2="657.40" stroke="#231815" stroke-width="1.8"/>
<line x1="752.90" y1="711.70" x2="758.90" y2="711.70" stroke="#231815" stroke-width="1.8"/>
<line x1="752.90" y1="630.80" x2="756.10" y2="630.80" stroke="#231815" stroke-width="1.8"/>
<line x1="752.90" y1="684.50" x2="756.10" y2="684.50" stroke="#231815" stroke-width="1.8"/>
<line x1="752.90" y1="738.80" x2="756.10" y2="738.80" stroke="#231815" stroke-width="1.8"/>
<line x1="794.10" y1="748.00" x2="794.10" y2="742.00" stroke="#231815" stroke-width="1.8"/>
<line x1="897.20" y1="748.00" x2="897.20" y2="742.00" stroke="#231815" stroke-width="1.8"/>
<line x1="999.40" y1="748.00" x2="999.40" y2="742.00" stroke="#231815" stroke-width="1.8"/>
<line x1="1102.30" y1="748.00" x2="1102.30" y2="742.00" stroke="#231815" stroke-width="1.8"/>
<line x1="845.40" y1="748.00" x2="845.40" y2="744.80" stroke="#231815" stroke-width="1.8"/>
<line x1="948.10" y1="748.00" x2="948.10" y2="744.80" stroke="#231815" stroke-width="1.8"/>
<line x1="1050.50" y1="748.00" x2="1050.50" y2="744.80" stroke="#231815" stroke-width="1.8"/>
<line x1="1152.80" y1="748.00" x2="1152.80" y2="744.80" stroke="#231815" stroke-width="1.8"/>
<text x="666.14" y="611.80" font-size="33.23" textLength="76.27" lengthAdjust="spacingAndGlyphs" fill="#000">1224</text>
<text x="666.06" y="666.00" font-size="33.23" textLength="78.08" lengthAdjust="spacingAndGlyphs" fill="#000">1221</text>
<text x="666.10" y="720.30" font-size="33.08" textLength="77.16" lengthAdjust="spacingAndGlyphs" fill="#000">1218</text>
<text x="737.25" y="780.10" font-size="33.08" textLength="104.63" lengthAdjust="spacingAndGlyphs" fill="#000">1071.5</text>
<text x="943.32" y="780.10" font-size="33.08" textLength="105.58" lengthAdjust="spacingAndGlyphs" fill="#000">1072.5</text>
<text x="1134.60" y="780.10" font-size="33.08" textLength="106.10" lengthAdjust="spacingAndGlyphs" fill="#000">1073.5</text>
<text x="921.46" y="813.10" font-size="34.35" textLength="85.80" lengthAdjust="spacingAndGlyphs" fill="#000">Time</text>
<text x="1021.49" y="813.10" font-size="34.35" textLength="62.79" lengthAdjust="spacingAndGlyphs" fill="#000">(ps)</text>
<g transform="translate(646.70,721.50) rotate(-90)">
<text x="0.49" y="0.00" font-size="35.73" textLength="25.06" lengthAdjust="spacingAndGlyphs" font-style="italic" fill="#000">E</text>
<text x="26.65" y="5.00" font-size="24.00" textLength="13.93" lengthAdjust="spacingAndGlyphs" fill="#000">p</text>
<text x="54.67" y="0.00" font-size="34.50" textLength="12.31" lengthAdjust="spacingAndGlyphs" fill="#000">(</text>
<text x="68.35" y="0.00" font-size="34.50" textLength="13.08" lengthAdjust="spacingAndGlyphs" fill="#000">e</text>
<text x="86.62" y="0.00" font-size="35.73" textLength="24.86" lengthAdjust="spacingAndGlyphs" fill="#000">V</text>
<text x="112.82" y="0.00" font-size="34.50" textLength="12.31" lengthAdjust="spacingAndGlyphs" fill="#000">)</text>
</g>
<text x="852.28" y="654.20" font-size="36.36" textLength="29.15" lengthAdjust="spacingAndGlyphs" fill="#000">Δ</text>
<text x="884.91" y="654.20" font-size="34.35" textLength="25.76" lengthAdjust="spacingAndGlyphs" font-style="italic" fill="#000">E</text>
<text x="910.65" y="659.00" font-size="24.00" textLength="14.16" lengthAdjust="spacingAndGlyphs" fill="#000">p</text>
<text x="931.31" y="658.30" font-size="36.80" textLength="29.23" lengthAdjust="spacingAndGlyphs" fill="#000" stroke="#000" stroke-width="0.1">=</text>
<text x="967.25" y="654.20" font-size="31.88" textLength="66.80" lengthAdjust="spacingAndGlyphs" fill="#000">0.66</text>
<text x="1046.80" y="654.20" font-size="34.35" textLength="44.82" lengthAdjust="spacingAndGlyphs" fill="#000">eV</text>
<line x1="809.20" y1="997.40" x2="854.60" y2="997.40" stroke="#231815" stroke-width="2"/>
<line x1="808.40" y1="1006.00" x2="858.50" y2="1006.00" stroke="#231815" stroke-width="2"/>
<polygon points="826.5,997.4 820.2,985.9 832.8,985.9" fill="#231815"/>
<polygon points="826.5,1006.0 820.2,1017.5 832.8,1017.5" fill="#231815"/>
<clipPath id="c8"><rect x="752.3" y="835.2" width="451.4" height="180.6"/></clipPath>
<g clip-path="url(#c8)">
<path d="M736.78,1016.96L767.32,1000.54M778.60,997.70L807.40,997.70M819.28,998.87L849.22,1004.83M860.56,1003.52L890.74,989.78M902.20,987.26L931.00,987.04M941.22,982.74L973.28,950.36M983.42,945.10L1012.98,940.10M1024.89,939.36L1054.61,940.64M1065.94,938.16L1095.76,922.84M1106.87,918.45L1136.23,910.05M1145.52,903.54L1180.08,855.96" fill="none" stroke="#2c4a9e" stroke-width="2.8" stroke-linecap="butt"/>
<polygon points="772.60,992.70 773.95,995.84 777.36,996.15 774.79,998.41 775.54,1001.75 772.60,1000.00 769.66,1001.75 770.41,998.41 767.84,996.15 771.25,995.84" fill="#2c4a9e"/>
<polygon points="813.40,992.70 814.75,995.84 818.16,996.15 815.59,998.41 816.34,1001.75 813.40,1000.00 810.46,1001.75 811.21,998.41 808.64,996.15 812.05,995.84" fill="#2c4a9e"/>
<polygon points="855.10,1001.00 856.45,1004.14 859.86,1004.45 857.29,1006.71 858.04,1010.05 855.10,1008.30 852.16,1010.05 852.91,1006.71 850.34,1004.45 853.75,1004.14" fill="#2c4a9e"/>
<polygon points="896.20,982.30 897.55,985.44 900.96,985.75 898.39,988.01 899.14,991.35 896.20,989.60 893.26,991.35 894.01,988.01 891.44,985.75 894.85,985.44" fill="#2c4a9e"/>
<polygon points="937.00,982.00 938.35,985.14 941.76,985.45 939.19,987.71 939.94,991.05 937.00,989.30 934.06,991.05 934.81,987.71 932.24,985.45 935.65,985.14" fill="#2c4a9e"/>
<polygon points="977.50,941.10 978.85,944.24 982.26,944.55 979.69,946.81 980.44,950.15 977.50,948.40 974.56,950.15 975.31,946.81 972.74,944.55 976.15,944.24" fill="#2c4a9e"/>
<polygon points="1018.90,934.10 1020.25,937.24 1023.66,937.55 1021.09,939.81 1021.84,943.15 1018.90,941.40 1015.96,943.15 1016.71,939.81 1014.14,937.55 1017.55,937.24" fill="#2c4a9e"/>
<polygon points="1060.60,935.90 1061.95,939.04 1065.36,939.35 1062.79,941.61 1063.54,944.95 1060.60,943.20 1057.66,944.95 1058.41,941.61 1055.84,939.35 1059.25,939.04" fill="#2c4a9e"/>
<polygon points="1101.10,915.10 1102.45,918.24 1105.86,918.55 1103.29,920.81 1104.04,924.15 1101.10,922.40 1098.16,924.15 1098.91,920.81 1096.34,918.55 1099.75,918.24" fill="#2c4a9e"/>
<polygon points="1142.00,903.40 1143.35,906.54 1146.76,906.85 1144.19,909.11 1144.94,912.45 1142.00,910.70 1139.06,912.45 1139.81,909.11 1137.24,906.85 1140.65,906.54" fill="#2c4a9e"/>
<polygon points="1183.60,846.10 1184.95,849.24 1188.36,849.55 1185.79,851.81 1186.54,855.15 1183.60,853.40 1180.66,855.15 1181.41,851.81 1178.84,849.55 1182.25,849.24" fill="#2c4a9e"/>
</g>
<rect x="752.30" y="835.20" width="451.40" height="180.60" fill="none" stroke="#231815" stroke-width="2.2"/>
<line x1="752.30" y1="847.70" x2="758.30" y2="847.70" stroke="#231815" stroke-width="1.8"/>
<line x1="752.30" y1="892.00" x2="758.30" y2="892.00" stroke="#231815" stroke-width="1.8"/>
<line x1="752.30" y1="936.20" x2="758.30" y2="936.20" stroke="#231815" stroke-width="1.8"/>
<line x1="752.30" y1="980.50" x2="758.30" y2="980.50" stroke="#231815" stroke-width="1.8"/>
<line x1="752.30" y1="869.90" x2="755.50" y2="869.90" stroke="#231815" stroke-width="1.8"/>
<line x1="752.30" y1="914.10" x2="755.50" y2="914.10" stroke="#231815" stroke-width="1.8"/>
<line x1="752.30" y1="958.40" x2="755.50" y2="958.40" stroke="#231815" stroke-width="1.8"/>
<line x1="752.30" y1="1002.60" x2="755.50" y2="1002.60" stroke="#231815" stroke-width="1.8"/>
<line x1="854.10" y1="1015.80" x2="854.10" y2="1009.80" stroke="#231815" stroke-width="1.8"/>
<line x1="957.20" y1="1015.80" x2="957.20" y2="1009.80" stroke="#231815" stroke-width="1.8"/>
<line x1="1060.80" y1="1015.80" x2="1060.80" y2="1009.80" stroke="#231815" stroke-width="1.8"/>
<line x1="1162.80" y1="1015.80" x2="1162.80" y2="1009.80" stroke="#231815" stroke-width="1.8"/>
<line x1="803.00" y1="1015.80" x2="803.00" y2="1012.60" stroke="#231815" stroke-width="1.8"/>
<line x1="905.80" y1="1015.80" x2="905.80" y2="1012.60" stroke="#231815" stroke-width="1.8"/>
<line x1="1009.30" y1="1015.80" x2="1009.30" y2="1012.60" stroke="#231815" stroke-width="1.8"/>
<line x1="1112.10" y1="1015.80" x2="1112.10" y2="1012.60" stroke="#231815" stroke-width="1.8"/>
<text x="685.56" y="859.50" font-size="33.23" textLength="57.34" lengthAdjust="spacingAndGlyphs" fill="#000">691</text>
<text x="685.58" y="903.20" font-size="33.08" textLength="56.45" lengthAdjust="spacingAndGlyphs" fill="#000">690</text>
<text x="685.58" y="947.20" font-size="33.08" textLength="56.57" lengthAdjust="spacingAndGlyphs" fill="#000">689</text>
<text x="685.58" y="990.90" font-size="33.08" textLength="56.45" lengthAdjust="spacingAndGlyphs" fill="#000">688</text>
<text x="708.02" y="1048.30" font-size="33.08" textLength="105.58" lengthAdjust="spacingAndGlyphs" fill="#000">1060.5</text>
<text x="913.49" y="1048.30" font-size="33.08" textLength="106.41" lengthAdjust="spacingAndGlyphs" fill="#000">1061.5</text>
<text x="1126.89" y="1048.30" font-size="33.08" textLength="106.41" lengthAdjust="spacingAndGlyphs" fill="#000">1062.5</text>
<text x="889.66" y="1082.90" font-size="34.35" textLength="85.63" lengthAdjust="spacingAndGlyphs" fill="#000">Time</text>
<text x="989.51" y="1082.90" font-size="34.35" textLength="62.67" lengthAdjust="spacingAndGlyphs" fill="#000">(ps)</text>
<g transform="translate(659.50,972.70) rotate(-90)">
<text x="0.49" y="0.00" font-size="35.73" textLength="25.06" lengthAdjust="spacingAndGlyphs" font-style="italic" fill="#000">E</text>
<text x="26.65" y="5.00" font-size="24.00" textLength="13.93" lengthAdjust="spacingAndGlyphs" fill="#000">p</text>
<text x="54.67" y="0.00" font-size="34.50" textLength="12.31" lengthAdjust="spacingAndGlyphs" fill="#000">(</text>
<text x="68.35" y="0.00" font-size="34.50" textLength="13.08" lengthAdjust="spacingAndGlyphs" fill="#000">e</text>
<text x="86.62" y="0.00" font-size="35.73" textLength="24.86" lengthAdjust="spacingAndGlyphs" fill="#000">V</text>
<text x="112.82" y="0.00" font-size="34.50" textLength="12.31" lengthAdjust="spacingAndGlyphs" fill="#000">)</text>
</g>
<text x="768.78" y="972.70" font-size="36.36" textLength="29.15" lengthAdjust="spacingAndGlyphs" fill="#000">Δ</text>
<text x="801.41" y="972.70" font-size="34.35" textLength="25.76" lengthAdjust="spacingAndGlyphs" font-style="italic" fill="#000">E</text>
<text x="827.15" y="977.50" font-size="24.00" textLength="14.16" lengthAdjust="spacingAndGlyphs" fill="#000">p</text>
<text x="847.81" y="976.80" font-size="36.80" textLength="29.23" lengthAdjust="spacingAndGlyphs" fill="#000" stroke="#000" stroke-width="0.1">=</text>
<text x="883.74" y="972.70" font-size="31.88" textLength="67.11" lengthAdjust="spacingAndGlyphs" fill="#000">0.20</text>
<text x="963.70" y="972.70" font-size="34.35" textLength="44.82" lengthAdjust="spacingAndGlyphs" fill="#000">eV</text>
<rect x="1366.00" y="66.40" width="337.20" height="926.50" fill="#f1f5fa"/>
<rect x="1703.20" y="66.40" width="129.80" height="926.50" fill="#fde9eb"/>
<line x1="1703.60" y1="66.40" x2="1703.60" y2="992.90" stroke="#f6d8dc" stroke-width="1.2"/>
<clipPath id="c9"><rect x="1366.0" y="66.4" width="467.0" height="926.5"/></clipPath>
<g clip-path="url(#c9)">
<line x1="1366.00" y1="964.30" x2="1829.00" y2="964.30" stroke="#2c4a9e" stroke-width="3" stroke-dasharray="15,14.85" stroke-dashoffset="1.1"/>
<line x1="1708.10" y1="992.20" x2="1825.10" y2="217.70" stroke="#0f8a3c" stroke-width="3.0"/>
<polygon points="1386.5,950.6 1398.4,962.4 1386.5,974.2 1374.6,962.4" fill="#0e0e10"/>
<polygon points="1422.2,950.6 1434.1,962.4 1422.2,974.2 1410.3,962.4" fill="#0e0e10"/>
<polygon points="1457.3,950.6 1469.2,962.4 1457.3,974.2 1445.4,962.4" fill="#0e0e10"/>
<polygon points="1548.1,951.7 1560.0,963.5 1548.1,975.3 1536.2,963.5" fill="#0e0e10"/>
<polygon points="1643.7,891.7 1655.6,903.5 1643.7,915.3 1631.8,903.5" fill="#0e0e10"/>
<polygon points="1714.5,839.1 1726.4,850.9 1714.5,862.7 1702.6,850.9" fill="#1e0a0c"/>
<polygon points="1754.3,881.5 1766.2,893.3 1754.3,905.1 1742.4,893.3" fill="#1e0a0c"/>
<polygon points="1734.9,744.4 1746.8,756.2 1734.9,768.0 1723.0,756.2" fill="#1e0a0c"/>
<polygon points="1761.8,743.8 1773.7,755.6 1761.8,767.4 1749.9,755.6" fill="#1e0a0c"/>
<polygon points="1766.2,730.7 1778.1,742.5 1766.2,754.3 1754.3,742.5" fill="#1e0a0c"/>
<polygon points="1770.5,712.6 1782.4,724.4 1770.5,736.2 1758.6,724.4" fill="#1e0a0c"/>
<polygon points="1772.0,579.1 1783.9,590.9 1772.0,602.7 1760.1,590.9" fill="#1e0a0c"/>
<polygon points="1788.3,559.0 1800.2,570.8 1788.3,582.6 1776.4,570.8" fill="#1e0a0c"/>
<polygon points="1780.7,475.7 1792.6,487.5 1780.7,499.3 1768.8,487.5" fill="#1e0a0c"/>
<polygon points="1774.7,334.3 1786.6,346.1 1774.7,357.9 1762.8,346.1" fill="#1e0a0c"/>
<polygon points="1778.9,298.2 1790.8,310.0 1778.9,321.8 1767.0,310.0" fill="#1e0a0c"/>
<polygon points="1825.6,162.8 1837.5,174.6 1825.6,186.4 1813.7,174.6" fill="#1e0a0c"/>
<polyline points="1386.3,962.4 1388.3,962.4 1390.3,962.4 1392.3,962.3 1394.3,962.3 1396.3,962.3 1398.3,962.3 1400.3,962.2 1402.3,962.2 1404.3,962.1 1406.3,962.1 1408.3,962.1 1410.3,962.0 1412.3,962.0 1414.3,962.0 1416.3,961.9 1418.3,961.9 1420.3,961.8 1422.3,961.8 1424.3,961.7 1426.3,961.7 1428.3,961.6 1430.3,961.6 1432.3,961.5 1434.3,961.5 1436.3,961.4 1438.3,961.3 1440.3,961.3 1442.3,961.2 1444.3,961.1 1446.3,961.1 1448.3,961.0 1450.3,960.9 1452.3,960.9 1454.3,960.8 1456.3,960.7 1458.3,960.6 1460.3,960.5 1462.3,960.4 1464.3,960.4 1466.3,960.3 1468.3,960.2 1470.3,960.1 1472.3,960.0 1474.3,959.9 1476.3,959.7 1478.3,959.6 1480.3,959.5 1482.3,959.4 1484.3,959.3 1486.3,959.1 1488.3,959.0 1490.3,958.9 1492.3,958.7 1494.3,958.6 1496.3,958.4 1498.3,958.3 1500.3,958.1 1502.3,958.0 1504.3,957.8 1506.3,957.6 1508.3,957.4 1510.3,957.3 1512.3,957.1 1514.3,956.9 1516.3,956.7 1518.3,956.4 1520.3,956.2 1522.3,956.0 1524.3,955.8 1526.3,955.5 1528.3,955.3 1530.3,955.0 1532.3,954.8 1534.3,954.5 1536.3,954.2 1538.3,953.9 1540.3,953.6 1542.3,953.3 1544.3,953.0 1546.3,952.7 1548.3,952.4 1550.3,952.0 1552.3,951.6 1554.3,951.3 1556.3,950.9 1558.3,950.5 1560.3,950.1 1562.3,949.7 1564.3,949.2 1566.3,948.8 1568.3,948.3 1570.3,947.9 1572.3,947.4 1574.3,946.9 1576.3,946.4 1578.3,945.8 1580.3,945.3 1582.3,944.7 1584.3,944.1 1586.3,943.5 1588.3,942.9 1590.3,942.2 1592.3,941.6 1594.3,940.9 1596.3,940.2 1598.3,939.4 1600.3,938.7 1602.3,937.9 1604.3,937.1 1606.3,936.2 1608.3,935.4 1610.3,934.5 1612.3,933.6 1614.3,932.6 1616.3,931.7 1618.3,930.7 1620.3,929.6 1622.3,928.6 1624.3,927.5 1626.3,926.3 1628.3,925.2 1630.3,924.0 1632.3,922.7 1634.3,921.4 1636.3,920.1 1638.3,918.7 1640.3,917.3 1642.3,915.9 1644.3,914.4 1646.3,912.8 1648.3,911.2 1650.3,909.6 1652.3,907.9 1654.3,906.1 1656.3,904.3 1658.3,902.4 1660.3,900.5 1662.3,898.5 1664.3,896.5 1666.3,894.3 1668.3,892.1 1670.3,889.9 1672.3,887.6 1674.3,885.2 1676.3,882.7 1678.3,880.1 1680.3,877.5 1682.3,874.8 1684.3,872.0 1686.3,869.1 1688.3,866.1 1690.3,863.0 1692.3,859.9 1694.3,856.6 1696.3,853.2 1698.3,849.7 1700.3,846.1 1702.3,842.4 1704.3,838.6 1706.3,834.6 1708.3,830.5 1710.3,826.3 1712.3,822.0 1714.3,817.5 1716.3,812.9 1718.3,808.1 1720.3,803.2 1722.3,798.2 1724.3,792.9 1726.3,787.5 1728.3,782.0 1730.3,776.2 1732.3,770.3 1734.3,764.2 1736.3,757.9 1738.3,751.4 1740.3,744.7 1742.3,737.7 1744.3,730.6 1746.3,723.2 1748.3,715.6 1750.3,707.8 1752.3,699.7 1754.3,691.3 1756.3,682.7 1758.3,673.8 1760.3,664.6 1762.3,655.2 1764.3,645.4 1766.3,635.4 1768.3,625.0 1770.3,614.3 1772.3,603.2 1774.3,591.8 1776.3,580.0 1778.3,567.9 1780.3,555.4 1782.3,542.4 1784.3,529.1 1786.3,515.4 1788.3,501.2 1790.3,486.5 1792.3,471.4 1794.3,455.9 1796.3,439.8 1798.3,423.2 1800.3,406.1 1802.3,388.4 1804.3,370.2 1806.3,351.5 1808.3,332.1 1810.3,312.1 1812.3,291.5 1814.3,270.2 1816.3,248.2 1818.3,225.6 1820.3,202.2 1822.3,178.1 1824.3,153.2 1826.3,127.6 1826.6,123.7" fill="none" stroke="#e60012" stroke-width="3.7" stroke-linejoin="round" stroke-linecap="butt"/>
</g>
<circle cx="1712.1" cy="960.2" r="8" fill="#e60012"/>
<rect x="1366.00" y="66.40" width="467.00" height="926.50" fill="none" stroke="#231815" stroke-width="3.4"/>
<line x1="1366.00" y1="962.40" x2="1383.00" y2="962.40" stroke="#231815" stroke-width="3"/>
<line x1="1366.00" y1="663.80" x2="1383.00" y2="663.80" stroke="#231815" stroke-width="3"/>
<line x1="1366.00" y1="365.20" x2="1383.00" y2="365.20" stroke="#231815" stroke-width="3"/>
<line x1="1366.00" y1="812.60" x2="1375.00" y2="812.60" stroke="#231815" stroke-width="3"/>
<line x1="1366.00" y1="514.50" x2="1375.00" y2="514.50" stroke="#231815" stroke-width="3"/>
<line x1="1366.00" y1="216.30" x2="1375.00" y2="216.30" stroke="#231815" stroke-width="3"/>
<line x1="1457.10" y1="992.90" x2="1457.10" y2="976.90" stroke="#231815" stroke-width="3"/>
<line x1="1548.60" y1="992.90" x2="1548.60" y2="976.90" stroke="#231815" stroke-width="3"/>
<line x1="1640.20" y1="992.90" x2="1640.20" y2="976.90" stroke="#231815" stroke-width="3"/>
<line x1="1731.40" y1="992.90" x2="1731.40" y2="976.90" stroke="#231815" stroke-width="3"/>
<line x1="1822.90" y1="992.90" x2="1822.90" y2="976.90" stroke="#231815" stroke-width="3"/>
<line x1="1411.50" y1="992.90" x2="1411.50" y2="984.90" stroke="#231815" stroke-width="3"/>
<line x1="1502.40" y1="992.90" x2="1502.40" y2="984.90" stroke="#231815" stroke-width="3"/>
<line x1="1594.20" y1="992.90" x2="1594.20" y2="984.90" stroke="#231815" stroke-width="3"/>
<line x1="1685.80" y1="992.90" x2="1685.80" y2="984.90" stroke="#231815" stroke-width="3"/>
<line x1="1777.30" y1="992.90" x2="1777.30" y2="984.90" stroke="#231815" stroke-width="3"/>
<text x="1342.25" y="1026.30" font-size="33.08" textLength="38.83" lengthAdjust="spacingAndGlyphs" fill="#000">50</text>
<text x="1425.63" y="1026.30" font-size="33.08" textLength="57.42" lengthAdjust="spacingAndGlyphs" fill="#000">100</text>
<text x="1518.17" y="1026.30" font-size="33.08" textLength="56.77" lengthAdjust="spacingAndGlyphs" fill="#000">150</text>
<text x="1609.10" y="1026.30" font-size="33.08" textLength="58.07" lengthAdjust="spacingAndGlyphs" fill="#000">200</text>
<text x="1701.02" y="1026.30" font-size="33.08" textLength="57.33" lengthAdjust="spacingAndGlyphs" fill="#000">250</text>
<text x="1792.36" y="1026.30" font-size="33.08" textLength="57.50" lengthAdjust="spacingAndGlyphs" fill="#000">300</text>
<text x="1331.07" y="971.10" font-size="33.08" textLength="18.87" lengthAdjust="spacingAndGlyphs" fill="#000">0</text>
<text x="1331.55" y="672.50" font-size="33.33" textLength="17.33" lengthAdjust="spacingAndGlyphs" fill="#000">1</text>
<text x="1331.19" y="373.90" font-size="33.23" textLength="19.45" lengthAdjust="spacingAndGlyphs" fill="#000">2</text>
<text x="1331.09" y="75.40" font-size="33.23" textLength="18.89" lengthAdjust="spacingAndGlyphs" fill="#000">3</text>
<text x="1524.93" y="119.10" font-size="34.01" textLength="146.80" lengthAdjust="spacingAndGlyphs" fill="#000">Unstable</text>
<text x="1716.06" y="119.10" font-size="34.01" textLength="106.00" lengthAdjust="spacingAndGlyphs" fill="#000">Stable</text>
<text x="1552.33" y="1068.00" font-size="34.35" textLength="24.77" lengthAdjust="spacingAndGlyphs" font-style="italic" fill="#000">L</text>
<text x="1575.98" y="1072.60" font-size="24.00" textLength="12.92" lengthAdjust="spacingAndGlyphs" fill="#000">a</text>
<text x="1601.17" y="1068.00" font-size="34.50" textLength="12.31" lengthAdjust="spacingAndGlyphs" fill="#000">(</text>
<text x="1615.93" y="1068.00" font-size="36.59" textLength="27.04" lengthAdjust="spacingAndGlyphs" fill="#000">Å</text>
<text x="1643.82" y="1068.00" font-size="34.50" textLength="12.31" lengthAdjust="spacingAndGlyphs" fill="#000">)</text>
<text x="1648.94" y="943.70" font-size="32.98" textLength="20.60" lengthAdjust="spacingAndGlyphs" font-style="italic" fill="#000">L</text>
<text x="1670.22" y="949.40" font-size="23.00" textLength="24.95" lengthAdjust="spacingAndGlyphs" fill="#000">ac</text>
<text x="1701.62" y="947.60" font-size="34.96" textLength="28.02" lengthAdjust="spacingAndGlyphs" fill="#000" stroke="#000" stroke-width="0.1">=</text>
<text x="1737.13" y="943.70" font-size="31.72" textLength="57.07" lengthAdjust="spacingAndGlyphs" fill="#000">242</text>
<text x="1808.82" y="943.70" font-size="34.15" textLength="20.38" lengthAdjust="spacingAndGlyphs" fill="#000">Å</text>
<g transform="translate(1299.3,597.3) rotate(-90)">
<text x="-1.90" y="0.00" font-size="36.06" textLength="32.10" lengthAdjust="spacingAndGlyphs" fill="#000">Δ</text>
<text x="30.65" y="0.00" font-size="35.11" textLength="22.94" lengthAdjust="spacingAndGlyphs" font-style="italic" fill="#000">E</text>
<text x="56.24" y="5.00" font-size="24.00" textLength="14.38" lengthAdjust="spacingAndGlyphs" fill="#000">p</text>
<text x="80.59" y="0.00" font-size="34.00" textLength="12.96" lengthAdjust="spacingAndGlyphs" fill="#000">(</text>
<text x="93.55" y="0.00" font-size="34.00" textLength="16.55" lengthAdjust="spacingAndGlyphs" fill="#000">e</text>
<text x="113.83" y="0.00" font-size="35.11" textLength="24.55" lengthAdjust="spacingAndGlyphs" fill="#000">V</text>
<text x="139.55" y="0.00" font-size="34.00" textLength="11.92" lengthAdjust="spacingAndGlyphs" fill="#000">)</text>
</g>
<text x="48.92" y="31.94" font-size="37.38" textLength="11.92" lengthAdjust="spacingAndGlyphs" fill="#000">(</text>
<text x="81.90" y="31.94" font-size="37.38" textLength="11.40" lengthAdjust="spacingAndGlyphs" fill="#000">)</text>
<text x="62.30" y="31.30" font-size="32.62" textLength="18.99" lengthAdjust="spacingAndGlyphs" fill="#000">a</text>
<text x="48.79" y="308.89" font-size="37.16" textLength="11.40" lengthAdjust="spacingAndGlyphs" fill="#000">(</text>
<text x="83.93" y="308.89" font-size="37.16" textLength="11.14" lengthAdjust="spacingAndGlyphs" fill="#000">)</text>
<text x="63.00" y="308.30" font-size="33.29" textLength="19.37" lengthAdjust="spacingAndGlyphs" fill="#000">b</text>
<text x="57.49" y="569.79" font-size="37.16" textLength="11.40" lengthAdjust="spacingAndGlyphs" fill="#000">(</text>
<text x="88.33" y="569.79" font-size="37.16" textLength="11.14" lengthAdjust="spacingAndGlyphs" fill="#000">)</text>
<text x="70.06" y="569.30" font-size="32.48" textLength="16.81" lengthAdjust="spacingAndGlyphs" fill="#000">c</text>
<text x="67.92" y="785.89" font-size="37.16" textLength="11.92" lengthAdjust="spacingAndGlyphs" fill="#000">(</text>
<text x="103.13" y="785.89" font-size="37.16" textLength="11.14" lengthAdjust="spacingAndGlyphs" fill="#000">)</text>
<text x="80.57" y="785.50" font-size="33.57" textLength="19.80" lengthAdjust="spacingAndGlyphs" fill="#000">d</text>
<text x="1275.79" y="69.19" font-size="37.60" textLength="11.40" lengthAdjust="spacingAndGlyphs" fill="#000">(</text>
<text x="1306.77" y="69.19" font-size="37.60" textLength="11.79" lengthAdjust="spacingAndGlyphs" fill="#000">)</text>
<text x="1288.04" y="68.70" font-size="33.55" textLength="17.75" lengthAdjust="spacingAndGlyphs" fill="#000">e</text>
</svg></body></html>
